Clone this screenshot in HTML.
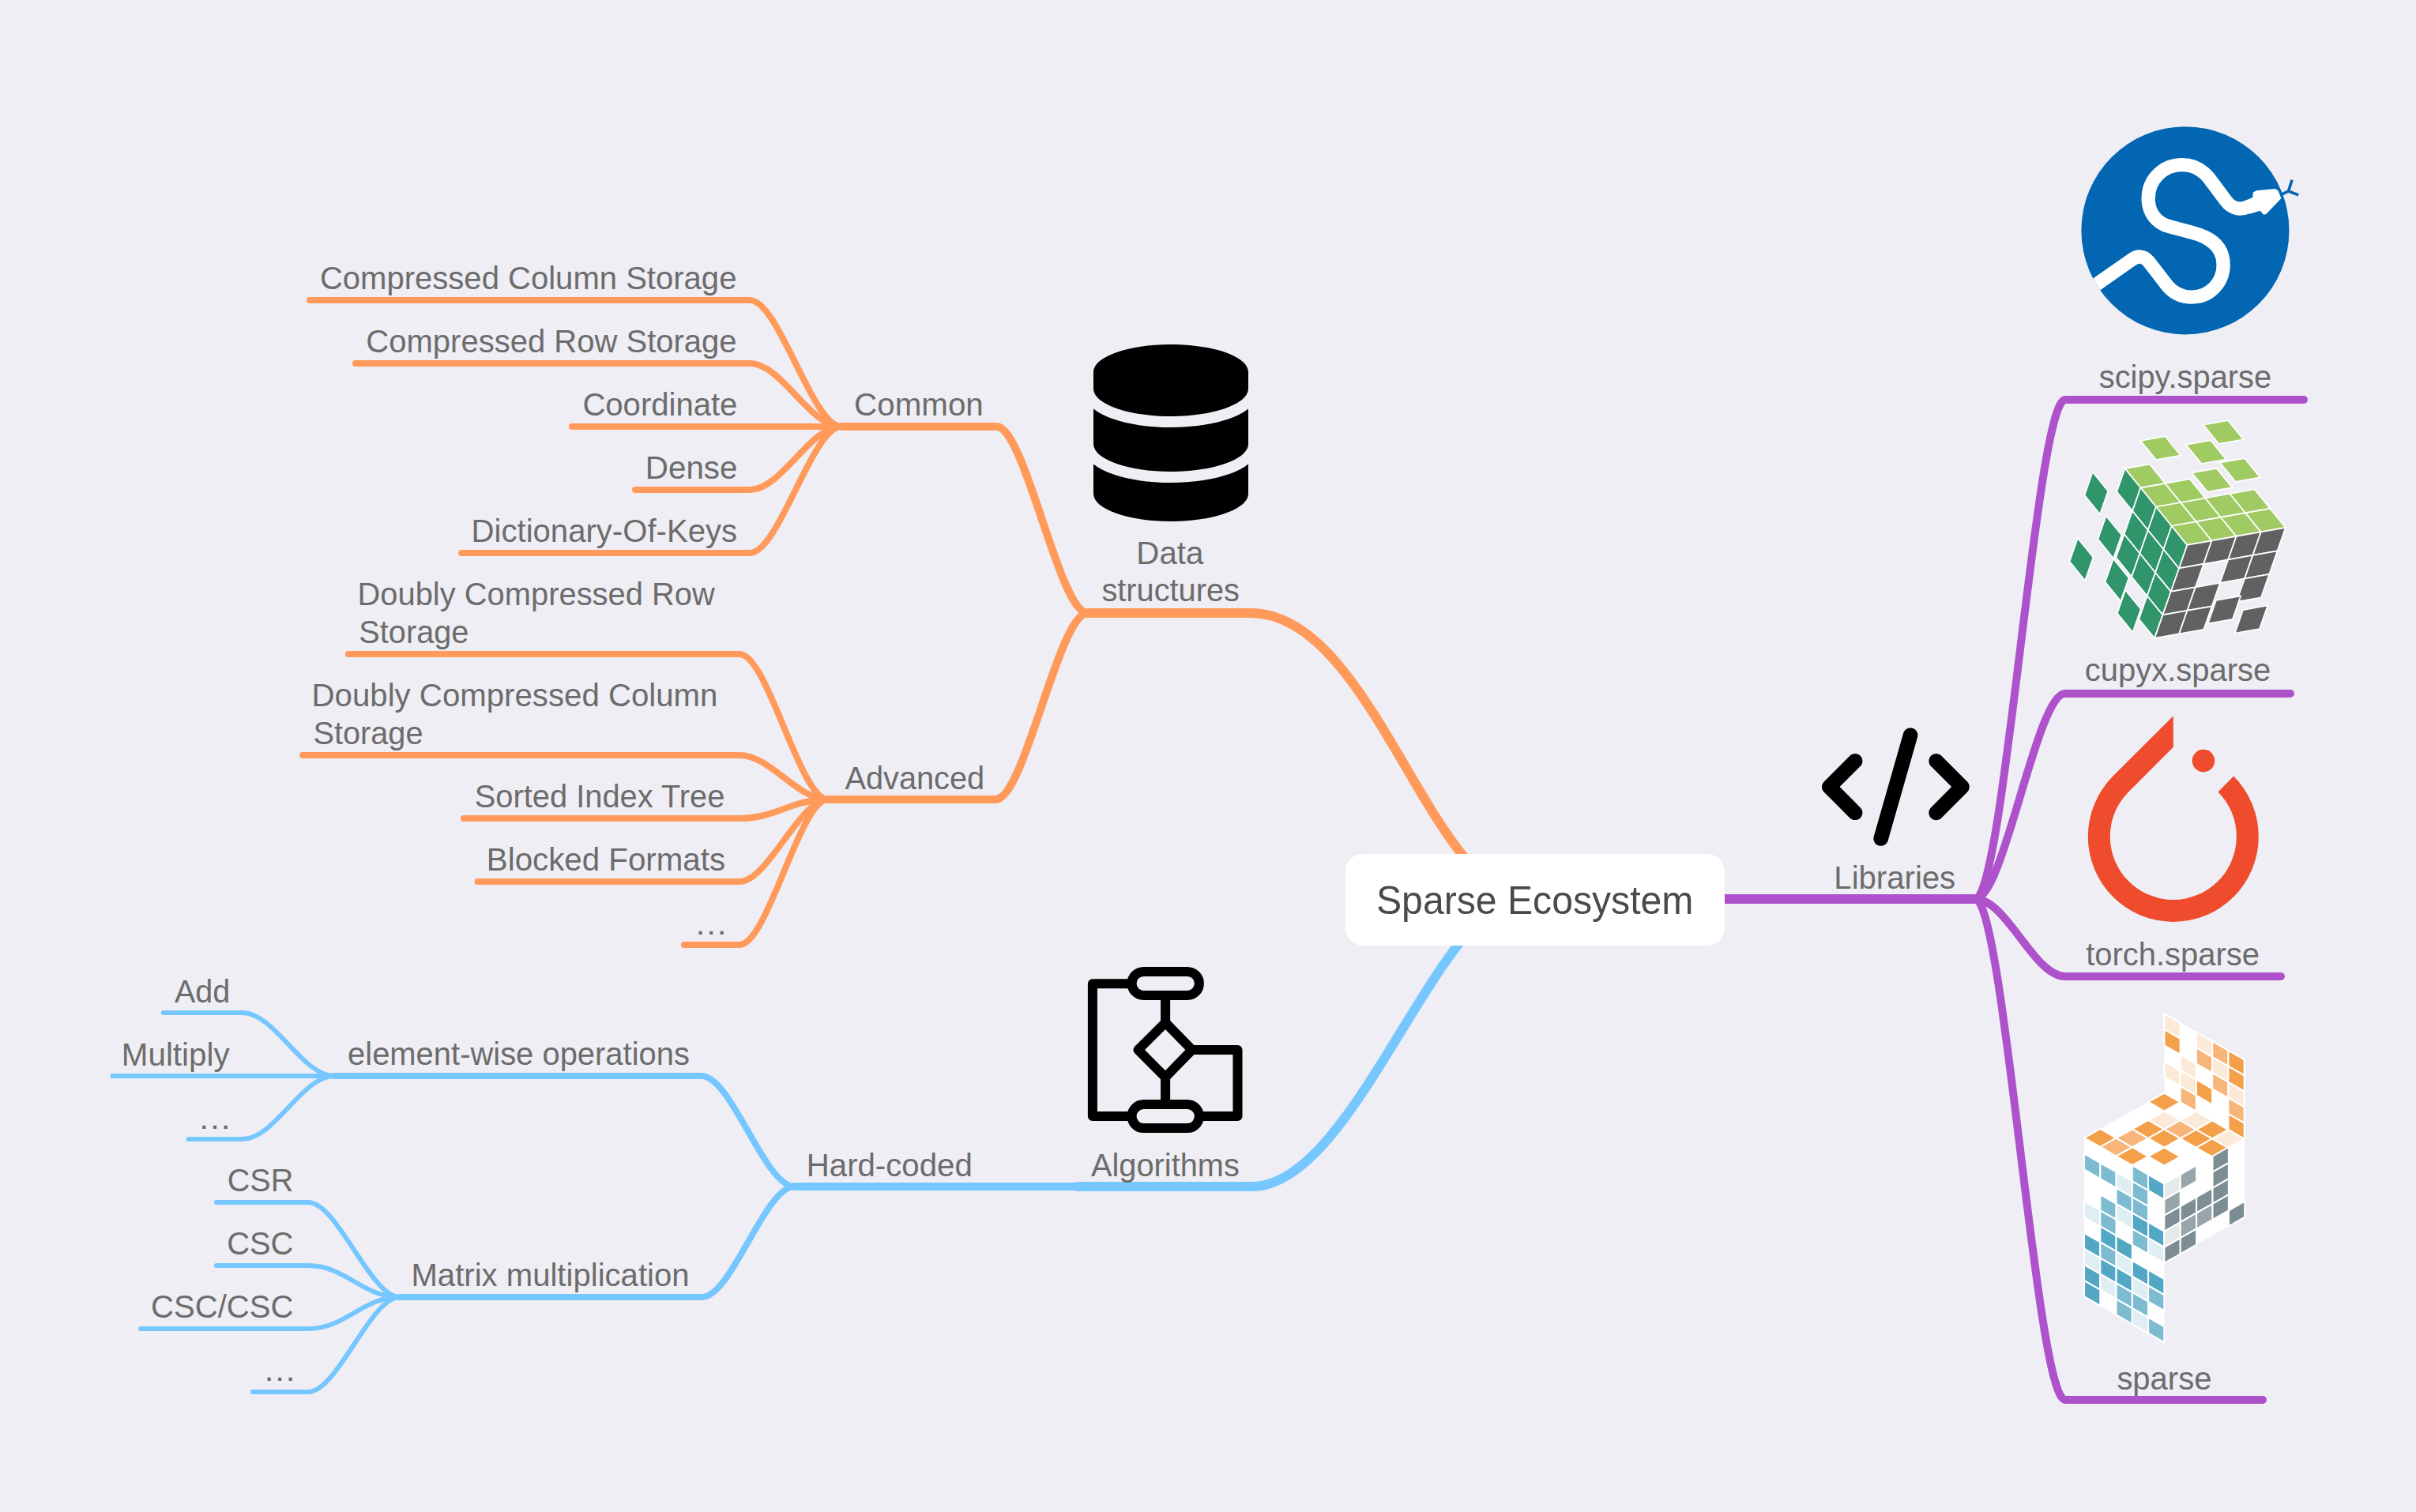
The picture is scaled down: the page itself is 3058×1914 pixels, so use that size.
<!DOCTYPE html>
<html><head><meta charset="utf-8"><style>
html,body{margin:0;padding:0;background:#efeef4;overflow:hidden;width:3058px;height:1914px}
svg{display:block}
text{font-family:"Liberation Sans",sans-serif}
</style></head><body>
<svg width="3058" height="1914" viewBox="0 0 3058 1914">
<rect width="3058" height="1914" fill="#efeef4"/>

<path d="M 1377 776 H 1583 C 1739 776 1811 1139 1938 1139" fill="none" stroke="#ff9a5a" stroke-width="12" stroke-linecap="round" stroke-linejoin="round"/>
<path d="M 1065 540 H 1261 C 1298.1 540.0 1339.9 776.0 1377.0 776.0" fill="none" stroke="#ff9a5a" stroke-width="10" stroke-linecap="round" stroke-linejoin="round"/>
<path d="M 1048 1012 H 1260 C 1297.4 1012.0 1339.6 776.0 1377.0 776.0" fill="none" stroke="#ff9a5a" stroke-width="10" stroke-linecap="round" stroke-linejoin="round"/>
<path d="M 392 380 H 949 C 986.1 380.0 1027.9 540.0 1065.0 540.0" fill="none" stroke="#ff9a5a" stroke-width="8" stroke-linecap="round" stroke-linejoin="round"/>
<path d="M 450 460 H 949 C 989.6 460.0 1024.4 540.0 1065.0 540.0" fill="none" stroke="#ff9a5a" stroke-width="8" stroke-linecap="round" stroke-linejoin="round"/>
<path d="M 724 540 H 1065" fill="none" stroke="#ff9a5a" stroke-width="8" stroke-linecap="round" stroke-linejoin="round"/>
<path d="M 804 620 H 949 C 989.6 620.0 1024.4 540.0 1065.0 540.0" fill="none" stroke="#ff9a5a" stroke-width="8" stroke-linecap="round" stroke-linejoin="round"/>
<path d="M 584 700 H 949 C 986.1 700.0 1027.9 540.0 1065.0 540.0" fill="none" stroke="#ff9a5a" stroke-width="8" stroke-linecap="round" stroke-linejoin="round"/>
<path d="M 441 828 H 936 C 971.8 828.0 1012.2 1012.0 1048.0 1012.0" fill="none" stroke="#ff9a5a" stroke-width="8" stroke-linecap="round" stroke-linejoin="round"/>
<path d="M 383 956 H 936 C 975.2 956.0 1008.8 1012.0 1048.0 1012.0" fill="none" stroke="#ff9a5a" stroke-width="8" stroke-linecap="round" stroke-linejoin="round"/>
<path d="M 587 1036 H 936 C 981.9 1036.0 1002.1 1012.0 1048.0 1012.0" fill="none" stroke="#ff9a5a" stroke-width="8" stroke-linecap="round" stroke-linejoin="round"/>
<path d="M 604.5 1116 H 936 C 971.8 1116.0 1012.2 1012.0 1048.0 1012.0" fill="none" stroke="#ff9a5a" stroke-width="8" stroke-linecap="round" stroke-linejoin="round"/>
<path d="M 866 1196 H 936 C 971.8 1196.0 1012.2 1012.0 1048.0 1012.0" fill="none" stroke="#ff9a5a" stroke-width="8" stroke-linecap="round" stroke-linejoin="round"/>
<path d="M 1364 1502 H 1585 C 1714 1502 1821 1139 1924 1139" fill="none" stroke="#76c7ff" stroke-width="12" stroke-linecap="round" stroke-linejoin="round"/>
<path d="M 1005.5 1502 H 1364" fill="none" stroke="#76c7ff" stroke-width="10" stroke-linecap="round" stroke-linejoin="round"/>
<path d="M 423 1362 H 888 C 925.6 1362.0 967.9 1502.0 1005.5 1502.0" fill="none" stroke="#76c7ff" stroke-width="8" stroke-linecap="round" stroke-linejoin="round"/>
<path d="M 506 1642 H 888.5 C 925.9 1642.0 968.1 1502.0 1005.5 1502.0" fill="none" stroke="#76c7ff" stroke-width="8" stroke-linecap="round" stroke-linejoin="round"/>
<path d="M 207 1282 H 307 C 347.6 1282.0 382.4 1362.0 423.0 1362.0" fill="none" stroke="#76c7ff" stroke-width="6" stroke-linecap="round" stroke-linejoin="round"/>
<path d="M 142.5 1362 H 423" fill="none" stroke="#76c7ff" stroke-width="6" stroke-linecap="round" stroke-linejoin="round"/>
<path d="M 238.5 1442 H 307 C 347.6 1442.0 382.4 1362.0 423.0 1362.0" fill="none" stroke="#76c7ff" stroke-width="6" stroke-linecap="round" stroke-linejoin="round"/>
<path d="M 274 1522 H 390 C 427.1 1522.0 468.9 1642.0 506.0 1642.0" fill="none" stroke="#76c7ff" stroke-width="6" stroke-linecap="round" stroke-linejoin="round"/>
<path d="M 274 1602 H 390 C 437.6 1602.0 458.4 1642.0 506.0 1642.0" fill="none" stroke="#76c7ff" stroke-width="6" stroke-linecap="round" stroke-linejoin="round"/>
<path d="M 178 1682 H 390 C 437.6 1682.0 458.4 1642.0 506.0 1642.0" fill="none" stroke="#76c7ff" stroke-width="6" stroke-linecap="round" stroke-linejoin="round"/>
<path d="M 320 1762 H 390 C 427.1 1762.0 468.9 1642.0 506.0 1642.0" fill="none" stroke="#76c7ff" stroke-width="6" stroke-linecap="round" stroke-linejoin="round"/>
<path d="M 1943 1138 H 2500" fill="none" stroke="#ae52cb" stroke-width="12" stroke-linecap="round" stroke-linejoin="round"/>
<path d="M 2500 1138 C 2536.5 1138.0 2577.5 506.0 2614.0 506.0 H 2916" fill="none" stroke="#ae52cb" stroke-width="10" stroke-linecap="round" stroke-linejoin="round"/>
<path d="M 2500 1138 C 2536.5 1138.0 2577.5 878.0 2614.0 878.0 H 2899" fill="none" stroke="#ae52cb" stroke-width="10" stroke-linecap="round" stroke-linejoin="round"/>
<path d="M 2500 1138 C 2539.9 1138.0 2574.1 1236.0 2614.0 1236.0 H 2887" fill="none" stroke="#ae52cb" stroke-width="10" stroke-linecap="round" stroke-linejoin="round"/>
<path d="M 2500 1138 C 2536.5 1138.0 2577.5 1772.0 2614.0 1772.0 H 2864" fill="none" stroke="#ae52cb" stroke-width="10" stroke-linecap="round" stroke-linejoin="round"/>
<rect x="1703" y="1081" width="480" height="116" rx="22" fill="#ffffff"/>
<text x="404.92" y="366.40" font-size="41.0" fill="#6c6c6c" textLength="527.50" lengthAdjust="spacingAndGlyphs">Compressed Column Storage</text>
<text x="463.32" y="446.10" font-size="41.0" fill="#6c6c6c" textLength="469.30" lengthAdjust="spacingAndGlyphs">Compressed Row Storage</text>
<text x="737.42" y="526.10" font-size="41.0" fill="#6c6c6c" textLength="196.00" lengthAdjust="spacingAndGlyphs">Coordinate</text>
<text x="816.85" y="606.00" font-size="41.0" fill="#6c6c6c" textLength="116.59" lengthAdjust="spacingAndGlyphs">Dense</text>
<text x="596.57" y="686.30" font-size="41.0" fill="#6c6c6c" textLength="336.49" lengthAdjust="spacingAndGlyphs">Dictionary-Of-Keys</text>
<text x="1081.11" y="526.00" font-size="41.0" fill="#6c6c6c" textLength="163.66" lengthAdjust="spacingAndGlyphs">Common</text>
<text x="1438.36" y="714.30" font-size="41.0" fill="#6c6c6c" textLength="84.88" lengthAdjust="spacingAndGlyphs">Data</text>
<text x="1394.38" y="761.00" font-size="41.0" fill="#6c6c6c" textLength="174.56" lengthAdjust="spacingAndGlyphs">structures</text>
<text x="452.48" y="765.80" font-size="41.0" fill="#6c6c6c" textLength="452.33" lengthAdjust="spacingAndGlyphs">Doubly Compressed Row</text>
<text x="454.36" y="814.20" font-size="41.0" fill="#6c6c6c" textLength="139.05" lengthAdjust="spacingAndGlyphs">Storage</text>
<text x="394.56" y="893.90" font-size="41.0" fill="#6c6c6c" textLength="513.90" lengthAdjust="spacingAndGlyphs">Doubly Compressed Column</text>
<text x="396.46" y="941.70" font-size="41.0" fill="#6c6c6c" textLength="139.05" lengthAdjust="spacingAndGlyphs">Storage</text>
<text x="600.76" y="1022.20" font-size="41.0" fill="#6c6c6c" textLength="316.65" lengthAdjust="spacingAndGlyphs">Sorted Index Tree</text>
<text x="615.85" y="1102.00" font-size="41.0" fill="#6c6c6c" textLength="302.21" lengthAdjust="spacingAndGlyphs">Blocked Formats</text>
<text x="878.67" y="1182.70" font-size="41.0" fill="#6c6c6c" textLength="42.67" lengthAdjust="spacingAndGlyphs">…</text>
<text x="1069.40" y="998.60" font-size="41.0" fill="#6c6c6c" textLength="176.83" lengthAdjust="spacingAndGlyphs">Advanced</text>
<text x="1741.99" y="1156.70" font-size="50.8" fill="#4a4a4a" textLength="401.50" lengthAdjust="spacingAndGlyphs">Sparse Ecosystem</text>
<text x="2321.37" y="1125.20" font-size="41.0" fill="#6c6c6c" textLength="153.79" lengthAdjust="spacingAndGlyphs">Libraries</text>
<text x="2656.78" y="491.00" font-size="41.0" fill="#6c6c6c" textLength="218.34" lengthAdjust="spacingAndGlyphs">scipy.sparse</text>
<text x="2638.75" y="862.40" font-size="41.0" fill="#6c6c6c" textLength="235.57" lengthAdjust="spacingAndGlyphs">cupyx.sparse</text>
<text x="2640.20" y="1221.90" font-size="41.0" fill="#6c6c6c" textLength="219.82" lengthAdjust="spacingAndGlyphs">torch.sparse</text>
<text x="2679.38" y="1758.50" font-size="41.0" fill="#6c6c6c" textLength="120.05" lengthAdjust="spacingAndGlyphs">sparse</text>
<text x="1381.00" y="1488.60" font-size="41.0" fill="#6c6c6c" textLength="187.84" lengthAdjust="spacingAndGlyphs">Algorithms</text>
<text x="1020.76" y="1488.60" font-size="41.0" fill="#6c6c6c" textLength="210.00" lengthAdjust="spacingAndGlyphs">Hard-coded</text>
<text x="440.05" y="1348.10" font-size="41.0" fill="#6c6c6c" textLength="432.90" lengthAdjust="spacingAndGlyphs">element-wise operations</text>
<text x="221.00" y="1268.70" font-size="41.0" fill="#6c6c6c" textLength="70.22" lengthAdjust="spacingAndGlyphs">Add</text>
<text x="153.85" y="1348.50" font-size="41.0" fill="#6c6c6c" textLength="136.75" lengthAdjust="spacingAndGlyphs">Multiply</text>
<text x="250.38" y="1428.60" font-size="41.0" fill="#6c6c6c" textLength="43.33" lengthAdjust="spacingAndGlyphs">…</text>
<text x="520.47" y="1628.30" font-size="41.0" fill="#6c6c6c" textLength="352.08" lengthAdjust="spacingAndGlyphs">Matrix multiplication</text>
<text x="287.74" y="1508.00" font-size="41.0" fill="#6c6c6c" textLength="83.63" lengthAdjust="spacingAndGlyphs">CSR</text>
<text x="287.13" y="1587.60" font-size="41.0" fill="#6c6c6c" textLength="84.25" lengthAdjust="spacingAndGlyphs">CSC</text>
<text x="191.12" y="1667.70" font-size="41.0" fill="#6c6c6c" textLength="180.27" lengthAdjust="spacingAndGlyphs">CSC/CSC</text>
<text x="332.67" y="1748.00" font-size="41.0" fill="#6c6c6c" textLength="42.67" lengthAdjust="spacingAndGlyphs">…</text>
<path transform="translate(1384 436) scale(0.4375)" d="M448 80v48c0 44.2-100.3 80-224 80S0 172.2 0 128V80C0 35.8 100.3 0 224 0S448 35.8 448 80zM393.2 214.7c20.8-7.4 39.9-16.9 54.8-28.6V288c0 44.2-100.3 80-224 80S0 332.2 0 288V186.1c14.9 11.8 34 21.2 54.8 28.6C99.7 230.7 159.5 240 224 240s124.3-9.3 169.2-25.3zM0 346.1c14.9 11.8 34 21.2 54.8 28.6C99.7 390.7 159.5 400 224 400s124.3-9.3 169.2-25.3c20.8-7.4 39.9-16.9 54.8-28.6V432c0 44.2-100.3 80-224 80S0 476.2 0 432V346.1z" fill="#000"/>
<path transform="translate(2306 921.4) scale(0.2918)" d="M392.8 1.2c-17-4.9-34.7 5-39.6 22l-128 448c-4.9 17 5 34.7 22 39.6s34.7-5 39.6-22l128-448c4.9-17-5-34.7-22-39.6zm80.6 120.1c-12.5 12.5-12.5 32.8 0 45.3L562.7 256l-89.4 89.4c-12.5 12.5-12.5 32.8 0 45.3s32.8 12.5 45.3 0l112-112c12.5-12.5 12.5-32.8 0-45.3l-112-112c-12.5-12.5-32.8-12.5-45.3 0zm-306.7 0c-12.5-12.5-32.8-12.5-45.3 0l-112 112c-12.5 12.5-12.5 32.8 0 45.3l112 112c12.5 12.5 32.8 12.5 45.3 0s12.5-32.8 0-45.3L77.3 256l89.4-89.4c12.5-12.5 12.5-32.8 0-45.3z" fill="#000"/>
<g transform="translate(1340 1200) scale(0.22763)" fill="none" stroke="#000" stroke-width="53" stroke-linejoin="round"><rect x="406.5" y="131.5" width="375" height="132" rx="66"/><rect x="406.5" y="870" width="375" height="132" rx="66"/><path d="M593.5 263.5V420M593.5 714V870"/><path d="M593.5 415 L741.5 567 L593.5 719 L441.5 567 Z" stroke-linejoin="round"/><path d="M406.5 198.5 H188.5 V936 H406.5"/><path d="M750 567 H995 V936 H781.5"/></g>
<g transform="translate(2630 155) scale(0.18195)"><defs><clipPath id="scc"><circle cx="747" cy="752" r="723"/></clipPath></defs><circle cx="747" cy="752" r="723" fill="#0366b3"/><path clip-path="url(#scc)" d="M 60 1175 L 375 955 C 415 927 455 925 490 965 L 610 1120 C 665 1195 730 1215 795 1215 C 920 1215 1012 1110 1012 990 C 1012 870 930 800 790 765 L 640 725 C 540 700 490 620 490 530 C 490 390 600 295 725 295 C 800 295 865 330 910 385 L 1030 545 C 1070 600 1130 610 1180 588 L 1250 560" fill="none" stroke="#fff" stroke-width="95" stroke-linejoin="round"/><path d="M1218 488 L1240 474 L1372 462 L1392 472 L1415 528 L1310 638 L1292 642 L1268 614 L1196 636 L1180 600 L1215 540 Z" fill="#fff"/><path d="M1420 500 L1465 478 L1490 400 M1465 478 L1535 505" fill="none" stroke="#0366b3" stroke-width="20"/></g>
<path d="M 2827.2 982.6 A 108 108 0 1 1 2674.4 982.6 L 2750.8 906.2 L 2750.8 945.8 L 2694.2 1002.4 A 80 80 0 1 0 2807.4 1002.4 Z" fill="#ee4c2c"/>
<circle cx="2789" cy="963" r="14.3" fill="#ee4c2c"/>
<g transform="translate(2610 525) scale(0.19179)" stroke="#fff" stroke-width="9" stroke-linejoin="miter">
<polygon points="825.0,860.0 987.5,831.2 885.0,705.0 722.5,733.8" fill="#a0ca62"/>
<polygon points="987.5,831.2 1150.0,802.5 1047.5,676.2 885.0,705.0" fill="#a0ca62"/>
<polygon points="1150.0,802.5 1312.5,773.8 1210.0,647.5 1047.5,676.2" fill="#a0ca62"/>
<polygon points="1312.5,773.8 1475.0,745.0 1372.5,618.8 1210.0,647.5" fill="#a0ca62"/>
<polygon points="722.5,733.8 885.0,705.0 782.5,578.8 620.0,607.5" fill="#a0ca62"/>
<polygon points="885.0,705.0 1047.5,676.2 945.0,550.0 782.5,578.8" fill="#a0ca62"/>
<polygon points="1047.5,676.2 1210.0,647.5 1107.5,521.2 945.0,550.0" fill="#a0ca62"/>
<polygon points="1210.0,647.5 1372.5,618.8 1270.0,492.5 1107.5,521.2" fill="#a0ca62"/>
<polygon points="620.0,607.5 782.5,578.8 680.0,452.5 517.5,481.2" fill="#a0ca62"/>
<polygon points="782.5,578.8 945.0,550.0 842.5,423.8 680.0,452.5" fill="#a0ca62"/>
<polygon points="517.5,481.2 680.0,452.5 577.5,326.2 415.0,355.0" fill="#a0ca62"/>
<polygon points="620.0,297.5 782.5,268.8 680.0,142.5 517.5,171.2" fill="#a0ca62"/>
<polygon points="920.0,323.5 1082.5,294.8 980.0,168.5 817.5,197.2" fill="#a0ca62"/>
<polygon points="1035.0,192.5 1197.5,163.8 1095.0,37.5 932.5,66.2" fill="#a0ca62"/>
<polygon points="960.0,509.5 1122.5,480.8 1020.0,354.5 857.5,383.2" fill="#a0ca62"/>
<polygon points="1145.0,442.5 1307.5,413.8 1205.0,287.5 1042.5,316.2" fill="#a0ca62"/>
<polygon points="825.0,860.0 987.5,831.2 933.8,985.0 771.2,1013.8" fill="#616161"/>
<polygon points="987.5,831.2 1150.0,802.5 1096.2,956.2 933.8,985.0" fill="#616161"/>
<polygon points="1150.0,802.5 1312.5,773.8 1258.8,927.5 1096.2,956.2" fill="#616161"/>
<polygon points="1312.5,773.8 1475.0,745.0 1421.2,898.8 1258.8,927.5" fill="#616161"/>
<polygon points="771.2,1013.8 933.8,985.0 880.0,1138.8 717.5,1167.5" fill="#616161"/>
<polygon points="1096.2,956.2 1258.8,927.5 1205.0,1081.2 1042.5,1110.0" fill="#616161"/>
<polygon points="1258.8,927.5 1421.2,898.8 1367.5,1052.5 1205.0,1081.2" fill="#616161"/>
<polygon points="717.5,1167.5 880.0,1138.8 826.2,1292.5 663.8,1321.2" fill="#616161"/>
<polygon points="880.0,1138.8 1042.5,1110.0 988.8,1263.8 826.2,1292.5" fill="#616161"/>
<polygon points="1205.0,1081.2 1367.5,1052.5 1313.8,1206.2 1151.2,1235.0" fill="#616161"/>
<polygon points="663.8,1321.2 826.2,1292.5 772.5,1446.2 610.0,1475.0" fill="#616161"/>
<polygon points="826.2,1292.5 988.8,1263.8 935.0,1417.5 772.5,1446.2" fill="#616161"/>
<polygon points="1016.6,1225.0 1179.1,1196.2 1125.4,1350.0 962.9,1378.8" fill="#616161"/>
<polygon points="1194.6,1288.0 1357.1,1259.2 1303.4,1413.0 1140.9,1441.8" fill="#616161"/>
<polygon points="825.0,860.0 722.5,733.8 668.8,887.5 771.2,1013.8" fill="#30956b"/>
<polygon points="771.2,1013.8 668.8,887.5 615.0,1041.2 717.5,1167.5" fill="#30956b"/>
<polygon points="717.5,1167.5 615.0,1041.2 561.2,1195.0 663.8,1321.2" fill="#30956b"/>
<polygon points="663.8,1321.2 561.2,1195.0 507.5,1348.8 610.0,1475.0" fill="#30956b"/>
<polygon points="722.5,733.8 620.0,607.5 566.2,761.2 668.8,887.5" fill="#30956b"/>
<polygon points="668.8,887.5 566.2,761.2 512.5,915.0 615.0,1041.2" fill="#30956b"/>
<polygon points="615.0,1041.2 512.5,915.0 458.8,1068.8 561.2,1195.0" fill="#30956b"/>
<polygon points="620.0,607.5 517.5,481.2 463.8,635.0 566.2,761.2" fill="#30956b"/>
<polygon points="566.2,761.2 463.8,635.0 410.0,788.8 512.5,915.0" fill="#30956b"/>
<polygon points="512.5,915.0 410.0,788.8 356.2,942.5 458.8,1068.8" fill="#30956b"/>
<polygon points="440.8,1076.8 338.2,950.5 284.5,1104.2 387.0,1230.5" fill="#30956b"/>
<polygon points="517.5,481.2 415.0,355.0 361.2,508.8 463.8,635.0" fill="#30956b"/>
<polygon points="393.0,793.8 290.5,667.5 236.8,821.2 339.2,947.5" fill="#30956b"/>
<polygon points="520.2,1283.0 417.8,1156.8 364.0,1310.5 466.5,1436.8" fill="#30956b"/>
<polygon points="304.1,503.8 201.6,377.5 147.9,531.2 250.4,657.5" fill="#30956b"/>
<polygon points="205.6,941.2 103.1,815.0 49.4,968.8 151.9,1095.0" fill="#30956b"/>
</g>
<g transform="translate(2620 1270) scale(0.29112)">
<polygon points="62,585 410,390 410,45 760,245 760,930 410,1125 410,1475 62,1275" fill="#fff"/>
<g stroke="#fff" stroke-width="7">
<polygon points="410.0,45.0 479.6,85.0 479.6,154.0 410.0,114.0" fill="#fcead9"/>
<polygon points="410.0,114.0 479.6,154.0 479.6,223.0 410.0,183.0" fill="#f4a04b"/>
<polygon points="410.0,252.0 479.6,292.0 479.6,361.0 410.0,321.0" fill="#fcead9"/>
<polygon points="479.6,223.0 549.2,263.0 549.2,332.0 479.6,292.0" fill="#fcead9"/>
<polygon points="479.6,292.0 549.2,332.0 549.2,401.0 479.6,361.0" fill="#fcead9"/>
<polygon points="479.6,361.0 549.2,401.0 549.2,470.0 479.6,430.0" fill="#f7b57a"/>
<polygon points="549.2,125.0 618.8,165.0 618.8,234.0 549.2,194.0" fill="#fcead9"/>
<polygon points="549.2,194.0 618.8,234.0 618.8,303.0 549.2,263.0" fill="#f7b57a"/>
<polygon points="549.2,332.0 618.8,372.0 618.8,441.0 549.2,401.0" fill="#f4a04b"/>
<polygon points="618.8,165.0 688.4,205.0 688.4,274.0 618.8,234.0" fill="#f7b57a"/>
<polygon points="618.8,234.0 688.4,274.0 688.4,343.0 618.8,303.0" fill="#fcead9"/>
<polygon points="618.8,303.0 688.4,343.0 688.4,412.0 618.8,372.0" fill="#f7b57a"/>
<polygon points="688.4,205.0 758.0,245.0 758.0,314.0 688.4,274.0" fill="#f4a04b"/>
<polygon points="688.4,274.0 758.0,314.0 758.0,383.0 688.4,343.0" fill="#f4a04b"/>
<polygon points="688.4,343.0 758.0,383.0 758.0,452.0 688.4,412.0" fill="#fcead9"/>
<polygon points="688.4,412.0 758.0,452.0 758.0,521.0 688.4,481.0" fill="#f7b57a"/>
<polygon points="688.4,481.0 758.0,521.0 758.0,590.0 688.4,550.0" fill="#f4a04b"/>
<polygon points="62.0,585.0 131.6,625.0 201.2,586.0 131.6,546.0" fill="#f4a04b"/>
<polygon points="131.6,625.0 201.2,665.0 270.8,626.0 201.2,586.0" fill="#f7b57a"/>
<polygon points="201.2,665.0 270.8,705.0 340.4,666.0 270.8,626.0" fill="#f4a04b"/>
<polygon points="201.2,586.0 270.8,626.0 340.4,587.0 270.8,547.0" fill="#f7b57a"/>
<polygon points="270.8,547.0 340.4,587.0 410.0,548.0 340.4,508.0" fill="#f4a04b"/>
<polygon points="340.4,429.0 410.0,469.0 479.6,430.0 410.0,390.0" fill="#f4a04b"/>
<polygon points="340.4,508.0 410.0,548.0 479.6,509.0 410.0,469.0" fill="#fcead9"/>
<polygon points="410.0,548.0 479.6,588.0 549.2,549.0 479.6,509.0" fill="#f7b57a"/>
<polygon points="340.4,587.0 410.0,627.0 479.6,588.0 410.0,548.0" fill="#f4a04b"/>
<polygon points="340.4,666.0 410.0,706.0 479.6,667.0 410.0,627.0" fill="#f4a04b"/>
<polygon points="479.6,509.0 549.2,549.0 618.8,510.0 549.2,470.0" fill="#fcead9"/>
<polygon points="479.6,588.0 549.2,628.0 618.8,589.0 549.2,549.0" fill="#f4a04b"/>
<polygon points="549.2,549.0 618.8,589.0 688.4,550.0 618.8,510.0" fill="#f4a04b"/>
<polygon points="549.2,628.0 618.8,668.0 688.4,629.0 618.8,589.0" fill="#f4a04b"/>
<polygon points="618.8,589.0 688.4,629.0 758.0,590.0 688.4,550.0" fill="#fcead9"/>
<polygon points="62.0,654.0 131.6,694.0 131.6,763.0 62.0,723.0" fill="#7dbcd0"/>
<polygon points="62.0,861.0 131.6,901.0 131.6,970.0 62.0,930.0" fill="#dfeef3"/>
<polygon points="62.0,999.0 131.6,1039.0 131.6,1108.0 62.0,1068.0" fill="#52a8c4"/>
<polygon points="62.0,1068.0 131.6,1108.0 131.6,1177.0 62.0,1137.0" fill="#dfeef3"/>
<polygon points="62.0,1137.0 131.6,1177.0 131.6,1246.0 62.0,1206.0" fill="#52a8c4"/>
<polygon points="62.0,1206.0 131.6,1246.0 131.6,1315.0 62.0,1275.0" fill="#52a8c4"/>
<polygon points="131.6,694.0 201.2,734.0 201.2,803.0 131.6,763.0" fill="#7dbcd0"/>
<polygon points="131.6,832.0 201.2,872.0 201.2,941.0 131.6,901.0" fill="#7dbcd0"/>
<polygon points="131.6,901.0 201.2,941.0 201.2,1010.0 131.6,970.0" fill="#7dbcd0"/>
<polygon points="131.6,970.0 201.2,1010.0 201.2,1079.0 131.6,1039.0" fill="#52a8c4"/>
<polygon points="131.6,1039.0 201.2,1079.0 201.2,1148.0 131.6,1108.0" fill="#7dbcd0"/>
<polygon points="131.6,1108.0 201.2,1148.0 201.2,1217.0 131.6,1177.0" fill="#52a8c4"/>
<polygon points="131.6,1177.0 201.2,1217.0 201.2,1286.0 131.6,1246.0" fill="#dfeef3"/>
<polygon points="201.2,734.0 270.8,774.0 270.8,843.0 201.2,803.0" fill="#dfeef3"/>
<polygon points="201.2,803.0 270.8,843.0 270.8,912.0 201.2,872.0" fill="#7dbcd0"/>
<polygon points="201.2,872.0 270.8,912.0 270.8,981.0 201.2,941.0" fill="#dfeef3"/>
<polygon points="201.2,1010.0 270.8,1050.0 270.8,1119.0 201.2,1079.0" fill="#52a8c4"/>
<polygon points="201.2,1079.0 270.8,1119.0 270.8,1188.0 201.2,1148.0" fill="#dfeef3"/>
<polygon points="201.2,1148.0 270.8,1188.0 270.8,1257.0 201.2,1217.0" fill="#52a8c4"/>
<polygon points="201.2,1217.0 270.8,1257.0 270.8,1326.0 201.2,1286.0" fill="#7dbcd0"/>
<polygon points="201.2,1286.0 270.8,1326.0 270.8,1395.0 201.2,1355.0" fill="#7dbcd0"/>
<polygon points="270.8,705.0 340.4,745.0 340.4,814.0 270.8,774.0" fill="#7dbcd0"/>
<polygon points="270.8,774.0 340.4,814.0 340.4,883.0 270.8,843.0" fill="#7dbcd0"/>
<polygon points="270.8,843.0 340.4,883.0 340.4,952.0 270.8,912.0" fill="#7dbcd0"/>
<polygon points="270.8,912.0 340.4,952.0 340.4,1021.0 270.8,981.0" fill="#52a8c4"/>
<polygon points="270.8,981.0 340.4,1021.0 340.4,1090.0 270.8,1050.0" fill="#7dbcd0"/>
<polygon points="270.8,1119.0 340.4,1159.0 340.4,1228.0 270.8,1188.0" fill="#52a8c4"/>
<polygon points="270.8,1188.0 340.4,1228.0 340.4,1297.0 270.8,1257.0" fill="#dfeef3"/>
<polygon points="270.8,1257.0 340.4,1297.0 340.4,1366.0 270.8,1326.0" fill="#7dbcd0"/>
<polygon points="270.8,1326.0 340.4,1366.0 340.4,1435.0 270.8,1395.0" fill="#dfeef3"/>
<polygon points="340.4,745.0 410.0,785.0 410.0,854.0 340.4,814.0" fill="#52a8c4"/>
<polygon points="340.4,952.0 410.0,992.0 410.0,1061.0 340.4,1021.0" fill="#52a8c4"/>
<polygon points="340.4,1021.0 410.0,1061.0 410.0,1130.0 340.4,1090.0" fill="#dfeef3"/>
<polygon points="340.4,1159.0 410.0,1199.0 410.0,1268.0 340.4,1228.0" fill="#52a8c4"/>
<polygon points="340.4,1228.0 410.0,1268.0 410.0,1337.0 340.4,1297.0" fill="#7dbcd0"/>
<polygon points="340.4,1366.0 410.0,1406.0 410.0,1475.0 340.4,1435.0" fill="#7dbcd0"/>
<polygon points="410.0,785.0 480.0,745.0 480.0,814.0 410.0,854.0" fill="#e6e9ea"/>
<polygon points="410.0,854.0 480.0,814.0 480.0,883.0 410.0,923.0" fill="#99a5aa"/>
<polygon points="410.0,923.0 480.0,883.0 480.0,952.0 410.0,992.0" fill="#7d8d94"/>
<polygon points="410.0,992.0 480.0,952.0 480.0,1021.0 410.0,1061.0" fill="#e6e9ea"/>
<polygon points="410.0,1061.0 480.0,1021.0 480.0,1090.0 410.0,1130.0" fill="#7d8d94"/>
<polygon points="480.0,745.0 550.0,705.0 550.0,774.0 480.0,814.0" fill="#99a5aa"/>
<polygon points="480.0,883.0 550.0,843.0 550.0,912.0 480.0,952.0" fill="#7d8d94"/>
<polygon points="480.0,952.0 550.0,912.0 550.0,981.0 480.0,1021.0" fill="#99a5aa"/>
<polygon points="480.0,1021.0 550.0,981.0 550.0,1050.0 480.0,1090.0" fill="#7d8d94"/>
<polygon points="550.0,843.0 620.0,803.0 620.0,872.0 550.0,912.0" fill="#7d8d94"/>
<polygon points="550.0,912.0 620.0,872.0 620.0,941.0 550.0,981.0" fill="#99a5aa"/>
<polygon points="620.0,665.0 690.0,625.0 690.0,694.0 620.0,734.0" fill="#7d8d94"/>
<polygon points="620.0,734.0 690.0,694.0 690.0,763.0 620.0,803.0" fill="#7d8d94"/>
<polygon points="620.0,803.0 690.0,763.0 690.0,832.0 620.0,872.0" fill="#7d8d94"/>
<polygon points="620.0,872.0 690.0,832.0 690.0,901.0 620.0,941.0" fill="#7d8d94"/>
<polygon points="690.0,901.0 760.0,861.0 760.0,930.0 690.0,970.0" fill="#7d8d94"/>
</g>
</g>
</svg></body></html>
